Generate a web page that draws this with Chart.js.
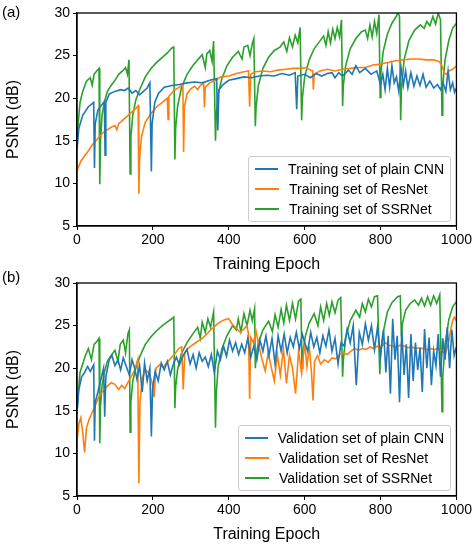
<!DOCTYPE html>
<html><head><meta charset="utf-8">
<script src="https://cdn.jsdelivr.net/npm/chart.js@4/dist/chart.umd.min.js"></script>
<style>
body{margin:0;width:474px;height:548px;background:#fff;font-family:"Liberation Sans",Arial,sans-serif;position:relative;overflow:hidden}
.c{position:absolute;left:0;width:474px}
.lab{position:absolute;left:2px;font-size:15px;color:#000}
.leg{position:absolute;background:rgba(255,255,255,0.85);border:1px solid #ccc;border-radius:3px;font-size:14px;padding:2px 6px;white-space:nowrap;box-sizing:border-box}
.leg div{display:flex;align-items:center;height:20px}
.leg span{display:inline-block;width:24px;height:2px;margin-right:10px}
</style></head><body>
<div class="c" style="top:0;height:278px"><canvas id="a"></canvas></div>
<div class="c" style="top:270px;height:278px"><canvas id="b"></canvas></div>
<div class="lab" style="top:3px">(a)</div>
<div class="lab" style="top:268px">(b)</div>
<div class="leg" style="left:248px;top:156px;width:203px">
<div><span style="background:#1f77b4"></span>Training set of plain CNN</div>
<div><span style="background:#ff7f0e"></span>Training set of ResNet</div>
<div><span style="background:#2ca02c"></span>Training set of SSRNet</div></div>
<div class="leg" style="left:238px;top:425px;width:213px">
<div><span style="background:#1f77b4"></span>Validation set of plain CNN</div>
<div><span style="background:#ff7f0e"></span>Validation set of ResNet</div>
<div><span style="background:#2ca02c"></span>Validation set of SSRNet</div></div>
<script>
const xTicks=[0,200,400,600,800,1000];
const yTicks=[5,10,15,20,25,30];
// [epoch, PSNR]
const trainCNN=[[0,14],[5,16.5],[15,18],[30,19],[44,19.5],[46,11.8],[48,17],[55,18.6],[65,19.2],[72,19.6],[74,13.3],[76,19.5],[85,20.5],[100,20.8],[115,21],[125,20.9],[135,21.2],[145,20.6],[155,20.9],[165,20.4],[175,20.8],[185,21.2],[192,21.8],[196,11.4],[198,17],[205,19.5],[215,20.6],[230,21.3],[250,21.5],[270,21.6],[290,21.8],[310,21.9],[330,21.8],[350,22.1],[368,22.3],[371,16.2],[374,21],[385,21.6],[400,22.1],[420,22.3],[440,22.5],[460,22.4],[480,22.6],[500,22.7],[520,22.6],[540,22.9],[560,22.7],[575,23],[579,18.7],[582,22.6],[600,22.8],[615,22.4],[630,22.9],[645,22.6],[660,22.9],[672,23],[680,22.4],[690,23],[700,22.6],[715,23.3],[725,22.8],[735,23.8],[745,23],[760,23.5],[775,22.8],[790,23.2],[800,21.6],[806,22.8],[812,21],[818,23.5],[824,21.3],[830,23.8],[836,21.8],[842,22.5],[848,20.8],[854,23.6],[860,21.5],[866,23.2],[872,21.2],[880,23],[888,21.4],[896,22.6],[904,21.5],[912,22.8],[920,21.3],[930,22],[940,21.2],[950,21.6],[958,21],[965,21.8],[972,20.8],[978,23.2],[984,21],[990,21.8],[995,20.7],[1000,21.2]];
const trainRes=[[0,11.5],[10,12.6],[25,13.5],[40,14.5],[55,15.3],[70,16],[90,16.6],[100,16.8],[105,16.3],[110,17],[125,17.6],[140,18.2],[155,18.8],[161,19.1],[163,8.8],[165,13],[170,15.5],[180,17.2],[195,18.2],[210,19],[225,19.5],[238,20],[240,17.5],[242,20.2],[255,20.9],[270,21.3],[279,21.6],[281,13.7],[283,19],[290,20.5],[300,21.1],[310,21.4],[318,21],[325,21.5],[334,21.7],[336,18.9],[338,21.3],[350,21.8],[365,22.1],[380,22.5],[400,22.6],[420,22.9],[440,23.1],[452,23.2],[455,19],[458,22.8],[470,23.1],[490,23.2],[510,23.1],[530,23.3],[550,23.4],[570,23.5],[590,23.5],[605,23.6],[615,23.3],[621,23.2],[623,21],[625,22.8],[640,23.2],[660,23.4],[680,23.2],[700,23.4],[720,23.5],[740,23.6],[760,23.6],[780,23.9],[800,24],[820,24.2],[840,24.4],[860,24.5],[880,24.6],[900,24.6],[920,24.5],[940,24.5],[955,24.3],[962,23.8],[968,23],[974,22.8],[980,23.2],[990,23.4],[1000,23.8]];
const trainSSR=[[0,15],[3,17],[8,19.5],[15,20.8],[25,22],[35,22.4],[40,21.5],[45,22.8],[52,23.2],[58,23.5],[60,9.9],[62,15],[66,18],[72,19.5],[80,20.8],[90,21.5],[100,22.1],[110,22.8],[120,23.2],[128,23.6],[133,22.8],[137,24.5],[140,11.1],[142,15.5],[147,18],[155,19.8],[165,21],[180,22.5],[195,23.5],[210,24.2],[225,24.8],[240,25.4],[250,25.9],[255,26],[258,12.8],[260,16.5],[265,19],[275,21.2],[290,22.8],[305,23.8],[318,24.5],[330,25.1],[338,23.6],[342,25.2],[350,25.6],[356,24.3],[360,26.7],[365,15],[367,18],[372,20.5],[382,22.3],[395,23.8],[410,24.8],[425,25.5],[435,24.6],[440,26],[450,26.2],[456,25],[462,26.4],[466,27],[470,16.7],[472,19],[478,21.5],[490,23.5],[505,24.8],[520,25.6],[535,26],[545,26.6],[553,25.5],[560,27.1],[568,26],[575,27.4],[582,26.5],[588,28.3],[592,17.4],[594,20],[600,22.5],[612,24.5],[625,25.8],[640,26.7],[650,27.3],[656,26.2],[662,27.8],[668,26.5],[674,28.1],[680,27],[686,28.3],[692,27.2],[697,29.2],[700,19.1],[702,21.5],[708,23.8],[720,25.8],[735,27],[750,27.8],[760,28],[766,27],[772,28.6],[778,27.2],[784,29],[790,27.6],[796,29.8],[799,20.1],[801,23],[807,25.5],[818,27.5],[830,28.8],[840,29.5],[846,30],[850,29.6],[853,17.4],[855,21],[862,24.5],[875,26.8],[890,28],[905,28.6],[915,28.2],[922,29],[930,28.5],[938,29.6],[945,28.7],[952,30],[958,29.2],[962,18],[964,21.5],[970,24.5],[980,26.8],[990,28.2],[1000,28.8]];
const valCNN=[[0,15],[5,17.5],[12,19],[20,19.5],[28,20.2],[35,19.6],[44,20.4],[46,11.5],[48,16],[55,17.2],[62,18.5],[70,20],[73,14.3],[76,19],[85,21],[92,21.5],[100,20.3],[108,21],[115,19.8],[122,21.2],[130,20.2],[138,19.2],[145,21],[152,20],[158,18.7],[165,20.3],[172,17.2],[178,20.6],[185,18.5],[192,20],[196,12],[199,17.5],[206,19.6],[214,18.5],[222,20.6],[230,19.8],[238,20.8],[246,19.2],[254,20.5],[262,21.3],[270,20.4],[280,21.5],[290,22.2],[298,20.5],[306,21.6],[314,20],[322,21.8],[330,20.8],[338,21.3],[346,20.2],[354,21.6],[362,19.5],[370,22],[378,21],[386,22.6],[394,21.4],[402,23.3],[410,22],[418,23],[426,21.6],[434,22.8],[442,21.8],[450,23.5],[458,21.3],[466,22.6],[474,21],[482,23.3],[490,22],[498,23.8],[506,21.5],[514,23.5],[522,20.5],[530,23.8],[538,22],[546,24],[554,21.8],[562,23.6],[570,22.5],[578,24.2],[586,22.3],[594,24],[600,23],[608,22],[616,24.2],[624,22.5],[632,23.6],[640,21.8],[648,23.8],[656,22.6],[664,24.5],[672,22],[680,23.5],[688,20.5],[696,23],[704,22.6],[712,24.6],[720,23],[728,25],[736,18],[744,24.2],[752,22.8],[760,25.2],[768,23.3],[776,25],[784,22.2],[792,24.8],[800,21.5],[808,24.5],[814,19.5],[820,23.8],[826,17],[832,25.8],[838,21],[844,23.8],[850,16],[856,24.5],[862,19.2],[868,22.8],[874,16.5],[880,24],[886,18.5],[892,23],[898,19.8],[904,22.4],[910,17.2],[916,24.6],[922,20],[928,23.6],[934,18],[940,22],[946,20.3],[952,24],[958,19],[964,23.5],[970,21],[976,24.8],[982,20],[988,24.5],[994,21.5],[1000,22.5]];
const valRes=[[0,11.5],[5,13.5],[10,14.2],[15,12.5],[20,10.1],[25,13],[32,14],[40,14.8],[48,15.6],[55,16.4],[62,17],[70,17.3],[80,17.9],[90,18.3],[100,18.1],[110,17.5],[118,18],[126,17.6],[135,18.4],[145,19.2],[152,19.8],[160,21],[163,6.5],[166,16],[172,18.8],[180,19.8],[190,19.4],[198,18.3],[203,16.6],[208,20],[218,20.4],[228,20.1],[238,20.7],[248,21.2],[258,21.7],[268,22.3],[276,22.5],[280,17.5],[284,21.8],[292,22.3],[300,22.6],[310,22.9],[320,23.2],[330,23.5],[340,23.9],[350,24.4],[360,24.8],[370,25.2],[380,25.5],[390,25.7],[400,25.8],[410,25.1],[420,24.7],[430,24.2],[440,24.6],[448,25],[452,24],[455,16.4],[458,23.6],[465,23],[472,24.3],[480,22.5],[488,21],[496,19.7],[504,21.8],[512,20.1],[520,18.5],[528,21.6],[536,19.2],[544,22.3],[552,18.2],[560,21.5],[568,20],[576,17],[584,22],[592,19.4],[600,23],[606,20.2],[612,22.6],[618,19.5],[622,16.2],[626,20.8],[634,21.5],[642,20.5],[652,21],[662,20.7],[672,21.2],[682,21.1],[692,21.6],[702,21.8],[712,21.6],[722,22],[732,22.3],[742,22.1],[752,22.3],[762,22.2],[772,22.5],[782,22.3],[792,22.6],[802,22.5],[812,23],[822,22.7],[832,22.6],[842,22.5],[852,22.7],[862,22.6],[872,22.4],[882,22.5],[892,22.3],[902,22.4],[912,22.3],[922,22.2],[932,22.3],[942,22.2],[952,22.3],[962,22],[970,21.6],[978,22.8],[985,24.5],[990,25.6],[995,26],[1000,25.6]];
const valSSR=[[0,14.5],[3,17],[8,19.5],[15,20.5],[22,21.5],[30,22.3],[38,21],[45,22.8],[52,23.1],[58,23.5],[60,11.2],[62,15.5],[66,18],[72,19.5],[80,20.8],[90,21.5],[100,22.1],[108,20.8],[114,22.8],[122,23.3],[128,21.8],[134,24],[138,24.5],[140,12.5],[142,16],[147,18.5],[155,20],[165,21.3],[180,22.8],[195,23.7],[210,24.4],[225,25],[240,25.5],[250,25.8],[255,26],[258,15.3],[260,17.8],[265,19.8],[275,21.7],[290,23],[305,24],[318,24.8],[325,23.5],[330,25.4],[338,24.2],[345,25.8],[352,24.8],[360,26.6],[365,13],[367,17],[372,20.2],[382,22.3],[395,23.8],[410,25],[420,24.5],[425,25.8],[432,24.3],[440,26.4],[448,25],[456,26.8],[462,25.6],[468,27],[470,20],[472,21.5],[478,23],[490,24.5],[505,25.5],[515,24.3],[522,26.3],[530,24.8],[538,26.9],[545,25.3],[552,27.4],[560,25.6],[568,27.6],[576,25.8],[584,27.9],[590,28.1],[593,20],[595,21.8],[602,23.8],[612,25.3],[625,26.4],[635,25],[642,27.2],[650,25.6],[658,27.6],[665,26.2],[672,27.8],[680,26.5],[688,28],[695,28.3],[700,19],[702,21],[708,23.5],[720,25.6],[735,26.8],[745,26],[752,27.6],[760,26.6],[768,28.1],[776,27.2],[784,28.4],[792,28.5],[798,19.3],[800,21.5],[806,24],[818,26.6],[830,27.7],[845,28.4],[852,28.5],[855,23.7],[858,25.3],[866,26.8],[878,27.6],[890,28],[900,27.4],[908,28.2],[916,27.3],[924,28.4],[932,27.4],[940,28.5],[948,27.6],[956,28.6],[962,14.9],[964,19],[970,22.8],[980,25.7],[990,27.2],[1000,27.8]];

const C={b:'#1f77b4',o:'#ff7f0e',g:'#2ca02c'};
const F='Liberation Sans';
function ds(d,c){return{data:d.map(p=>({x:p[0],y:p[1]})),borderColor:c,borderWidth:1.6,pointRadius:0,tension:0,fill:false};}
function make(id,sets){
  const grid={drawOnChartArea:false,drawTicks:true,tickLength:4,color:'#000',lineWidth:1};
  new Chart(document.getElementById(id),{type:'line',
    data:{datasets:sets},
    options:{responsive:true,maintainAspectRatio:false,animation:false,
      layout:{padding:{top:13,right:17,left:0,bottom:0}},
      plugins:{legend:{display:false},tooltip:{enabled:false}},
      scales:{
        x:{type:'linear',min:0,max:1000,grid:grid,border:{color:'#000',width:1.3},
          afterBuildTicks:s=>{s.ticks=xTicks.map(v=>({value:v}));},
          afterFit:s=>{s.height=52;},
          ticks:{color:'#000',font:{size:14,family:F},padding:2,maxRotation:0,callback:v=>String(v)},
          title:{display:true,text:'Training Epoch',color:'#000',font:{size:16,family:F},padding:{top:2}}},
        y:{min:5,max:30,grid:grid,border:{color:'#000',width:1.3},
          afterBuildTicks:s=>{s.ticks=yTicks.map(v=>({value:v}));},
          afterFit:s=>{s.width=77;},
          ticks:{color:'#000',font:{size:14,family:F},padding:3,callback:v=>String(v)},
          title:{display:true,text:'PSNR (dB)',color:'#000',font:{size:16,family:F}}}
      }},
    plugins:[{id:'frame',afterDraw(ch){const a=ch.chartArea,x=ch.ctx;x.save();x.strokeStyle='#000';x.lineWidth=1.3;x.strokeRect(a.left,a.top,a.right-a.left,a.bottom-a.top);x.restore();}}]
  });
}
make('a',[ds(trainCNN,C.b),ds(trainRes,C.o),ds(trainSSR,C.g)]);
make('b',[ds(valCNN,C.b),ds(valRes,C.o),ds(valSSR,C.g)]);
</script></body></html>
